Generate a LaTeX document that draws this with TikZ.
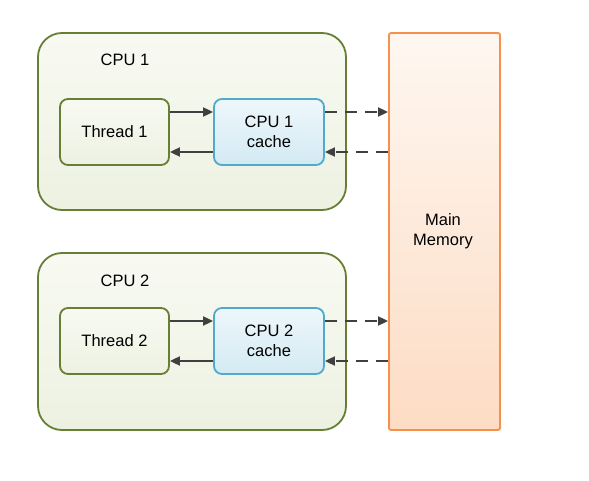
\documentclass[tikz,border=0pt]{standalone}
\usepackage{fontspec}
\setmainfont{Liberation Sans}
\usetikzlibrary{arrows.meta,calc}
\definecolor{grnb}{HTML}{677F35}
\definecolor{grnt}{HTML}{F8FAF2}
\definecolor{grnbot}{HTML}{EDF1E1}
\definecolor{blub}{HTML}{4FAACB}
\definecolor{blut}{HTML}{EEF7FB}
\definecolor{blubot}{HTML}{D3EAF3}
\definecolor{orb}{HTML}{F7904A}
\definecolor{ort}{HTML}{FEF7F1}
\definecolor{orbot}{HTML}{FDDCC4}
\definecolor{arrc}{HTML}{404040}
\tikzset{
  x=1pt,y=-1pt,
  txt/.style={font=\fontsize{16.5}{20}\selectfont, text=black, align=center},
  cpubox/.style={draw=grnb, line width=1.8pt, rounded corners=24pt, top color=grnt, bottom color=grnbot, minimum width=308pt, minimum height=177pt, inner sep=0pt},
  thrbox/.style={txt, draw=grnb, line width=1.8pt, rounded corners=8pt, top color=grnt, bottom color=grnbot, minimum width=109pt, minimum height=66pt, inner sep=0pt},
  cachebox/.style={txt, draw=blub, line width=1.8pt, rounded corners=8pt, top color=blut, bottom color=blubot, minimum width=110pt, minimum height=66pt, inner sep=0pt},
  membox/.style={txt, draw=orb, line width=1.8pt, rounded corners=2pt, top color=ort, bottom color=orbot, minimum width=111pt, minimum height=397pt, inner sep=0pt},
  arr/.style={draw=arrc, line width=1.8pt, -{Triangle[length=10pt,width=9pt]}},
  darr/.style={arr, dash pattern=on 12pt off 8pt},
}
\begin{document}
\begin{tikzpicture}
\useasboundingbox (0,0) rectangle (589,481);
\node[membox] (mem) at (444.5,231.5) {};
\node[txt] (memtxt) at (443,231) {Main\\Memory};

\node[cpubox] (cpu1) at (192,121.5) {};
\node[txt] (cpu1lbl) at (125,60) {CPU 1};
\node[thrbox] (t1) at (114.5,132) {Thread 1};
\node[cachebox] (c1) at (269,132) {CPU 1\\cache};

\node[cpubox] (cpu2) at (192,341.5) {};
\node[txt] (cpu2lbl) at (125,281) {CPU 2};
\node[thrbox] (t2) at (114.5,341) {Thread 2};
\node[cachebox] (c2) at (269,341) {CPU 2\\cache};

\foreach \t/\c in {t1/c1,t2/c2}{
  \draw[arr] ([yshift=20pt]\t.east) -- ([yshift=20pt]\c.west);
  \draw[arr] ([yshift=-20pt]\c.west) -- ([yshift=-20pt]\t.east);
  \coordinate (\c mu) at ([yshift=20pt]\c.east -| mem.west);
  \coordinate (\c md) at ([yshift=-20pt]\c.east -| mem.west);
  \draw[darr] ([yshift=20pt]\c.east) -- (\c mu);
  \draw[darr] (\c md) -- ([yshift=-20pt]\c.east);
}
\end{tikzpicture}
\end{document}
